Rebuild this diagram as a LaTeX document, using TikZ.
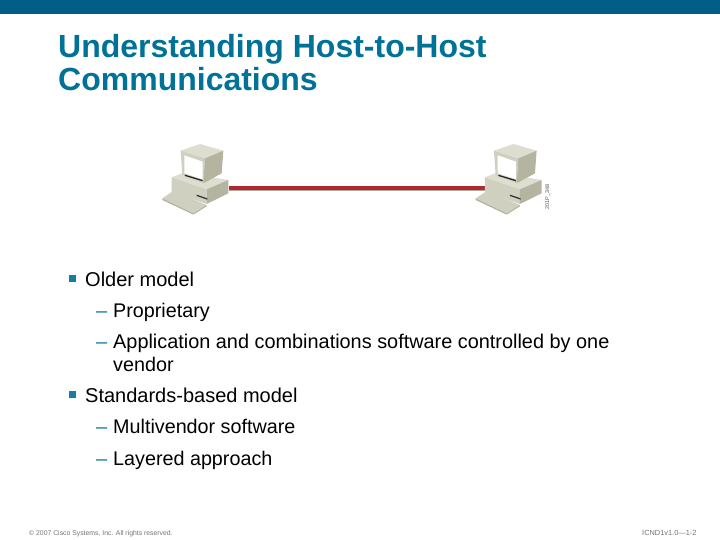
\documentclass[tikz,border=0pt]{standalone}
\usepackage{fontspec}
\setmainfont{Liberation Sans}
\definecolor{ciscoblue}{RGB}{0,94,135}
\definecolor{titleblue}{RGB}{0,114,152}
\definecolor{bulletblue}{RGB}{20,125,165}
\definecolor{linkred}{RGB}{176,40,48}
\definecolor{linkshadow}{RGB}{170,170,160}
\definecolor{caseface}{RGB}{208,208,192}
\definecolor{casetop}{RGB}{222,222,208}
\definecolor{caseside}{RGB}{180,180,160}
\tikzset{
 x=1pt,y=-1pt,
 txt/.style={anchor=base west,inner sep=0pt,text=black},
 titletxt/.style={anchor=base west,inner sep=0pt,text=titleblue,font=\fontsize{32}{32}\selectfont\bfseries},
 body/.style={txt,font=\fontsize{20}{20}\selectfont},
 subbody/.style={txt,font=\fontsize{19.75}{20}\selectfont},
 longbody/.style={txt,font=\fontsize{19.88}{20}\selectfont},
 mark1/.style={fill=bulletblue,draw=none,minimum size=6.5pt,inner sep=0pt},
 mark2/.style={anchor=base west,inner sep=0pt,text=bulletblue,font=\fontsize{20}{20}\selectfont},
 foot/.style={anchor=base west,inner sep=0pt,text=black!55,font=\fontsize{6.85}{7}\selectfont},
 foot2/.style={anchor=base west,inner sep=0pt,text=black!55,font=\fontsize{7.4}{8}\selectfont},
 pics/computer/.style={code={
  \begin{scope}[x=0.3333pt,y=-0.3333pt]
   % keyboard
   \fill[caseface] (37,205)--(70,183)--(170,225)--(130,250)--cycle;
   \fill[caseside] (37,205)--(130,250)--(130,254)--(37,210)--cycle;
   \fill[caseside] (130,250)--(170,225)--(170,229)--(130,254)--cycle;
   % base
   \fill[casetop] (65,142)--(100,128)--(235,150)--(170,178)--cycle;
   \fill[caseface] (65,142)--(170,178)--(170,222)--(65,185)--cycle;
   \fill[caseside] (170,178)--(235,150)--(235,190)--(170,222)--cycle;
   \fill[black!80] (140,194)--(172,205)--(172,209)--(140,198)--cycle;
   % monitor
   \fill[casetop] (92,62)--(150,42)--(220,62)--(165,85)--cycle;
   \fill[caseface] (92,62)--(165,85)--(160,160)--(97,135)--cycle;
   \fill[caseside] (165,85)--(220,62)--(215,130)--(160,160)--cycle;
   \fill[white] (103,76)--(158,95)--(158,148)--(103,130)--cycle;
   \fill[black!85] (105,134)--(158,150)--(158,154)--(105,138)--cycle;
  \end{scope}
 }},
}
\begin{document}
\begin{tikzpicture}
\useasboundingbox (0,0) rectangle (720,540);
\fill[ciscoblue] (0,0) rectangle (720,14);
\node[titletxt] (t1) at (58,57.5) {Understanding Host-to-Host};
\node[titletxt] (t2) at (58,91) {Communications};
\coordinate (linkA) at (229,188);
\coordinate (linkB) at (485,188);
\coordinate (shadowA) at (229,190.5);
\coordinate (shadowB) at (485,190.5);
\draw[linkshadow,line width=1pt] (shadowA) -- (shadowB);
\draw[linkred,line width=3.2pt] (linkA) -- (linkB);
\pic at (150,130) {computer};
\pic at (463.3,130) {computer};
\node[rotate=90,anchor=base west,inner sep=0pt,text=black!65,font=\fontsize{5.5}{5.5}\selectfont] (code) at (549,210) {201P\_348};
\node[mark1] (b1) at (72.3,278.7) {};
\node[body] (l1) at (85,286) {Older model};
\node[mark2] (d1) at (96,317) {–};
\node[subbody] (l2) at (113,317) {Proprietary};
\node[mark2] (d2) at (96,348) {–};
\node[longbody] (l3) at (113,348) {Application and combinations software controlled by one};
\node[subbody] (l3b) at (113,371) {vendor};
\node[mark1] (b2) at (72.3,394.7) {};
\node[body] (l4) at (85,402) {Standards-based model};
\node[mark2] (d3) at (96,433) {–};
\node[subbody] (l5) at (113,433) {Multivendor software};
\node[mark2] (d4) at (96,465) {–};
\node[subbody] (l6) at (113,465) {Layered approach};
\node[foot] (f1) at (29,535) {© 2007 Cisco Systems, Inc. All rights reserved.};
\node[foot2] (f2) at (642,535) {ICND1v1.0—1-2};
\end{tikzpicture}
\end{document}
